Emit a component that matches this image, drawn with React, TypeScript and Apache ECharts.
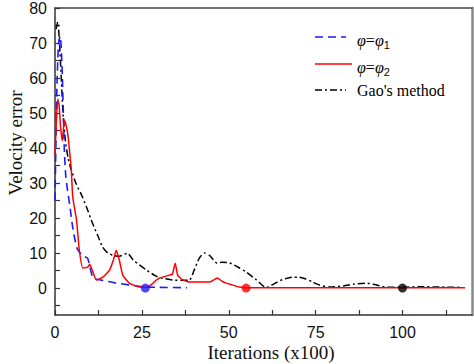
import { useEffect, useRef } from "react";
import * as echarts from "echarts";

// Velocity error vs iterations (x100)
const phi1Points: [number, number][] = [
  [0, 25], [0.5, 55], [1, 70], [1.5, 72], [2, 64], [2.4, 50], [2.7, 39], [3.1, 32], [3.6, 28],
  [4.2, 24], [5, 18], [5.6, 14.5], [6.5, 11], [7.6, 9.6], [8.5, 9], [9.4, 8.5], [10, 6.2],
  [10.8, 3.2], [11.9, 2.5], [13.7, 2.2], [17.6, 1.4], [21.4, 0.9], [25.7, 0.3], [30, 0.2], [38, 0.1],
];

const phi2Points: [number, number][] = [
  [0, 38], [0.4, 48], [0.8, 54], [1.2, 52], [1.6, 46], [2.1, 42], [2.7, 48], [3.3, 46], [3.8, 43],
  [4.3, 38], [4.7, 33.7], [5.1, 26], [6.2, 19.4], [7, 10.8], [8, 5.7], [9.4, 6], [10, 6.8],
  [10.9, 4.6], [11.9, 2.3], [13.8, 3.1], [15.7, 5.1], [16.8, 8], [17.6, 10.8], [18.5, 8],
  [19.5, 3.7], [21.4, 1.4], [24.3, 0.3], [26.6, 0.3], [28, 1.2], [29.2, 2.3], [30, 2.8],
  [32.9, 3.7], [33.8, 4], [34.6, 7.1], [35.3, 3.7], [36.5, 2.5], [38.6, 1.7], [44.4, 1.7],
  [45.5, 2.2], [46.7, 2.9], [48, 2], [49.3, 1.4], [51, 0.9], [53, 0.3], [55, 0.1], [118, 0.1],
];

const gaoPoints: [number, number][] = [
  [0.3, 74], [0.8, 76], [1.3, 70], [1.8, 60], [2.3, 50], [3, 42], [3.8, 37], [4.6, 34], [6, 30],
  [7.9, 26], [9.5, 22], [10.8, 18.5], [12.3, 15], [13.7, 11.7], [15.2, 10], [17, 9.3], [18.5, 9.1],
  [20, 9.6], [20.8, 10], [22.5, 8], [24.3, 6.6], [26.5, 5], [29.1, 3.4], [31, 2.8], [33.8, 2.3],
  [38.6, 2.2], [40, 5], [41.5, 8.5], [43, 10], [44.5, 9.3], [46.7, 7.1], [48, 7.4], [50.2, 7.2],
  [53, 5.8], [55, 4.6], [58, 2.3], [60.8, 0.1], [63, 1.2], [65.5, 2.4], [68.3, 3.1], [70, 3.1],
  [72.2, 2.6], [74, 1.8], [76, 0.9], [79, 0.3], [83, 0.6], [86, 1.1], [89.5, 1.4], [92, 1.0],
  [95, 0.3], [100, 0.2], [105, 0.4], [110, 0.3], [117, 0.2],
];

const convergencePoints: { point: [number, number]; color: string }[] = [
  { point: [26, 0], color: "#1a1aff" },
  { point: [55, 0], color: "#ff0000" },
  { point: [100, 0], color: "#000000" },
];

const xLabels = [0, 25, 50, 75, 100];
const xTicks = [0, 12.5, 25, 37.5, 50, 62.5, 75, 87.5, 100, 112.5];
const yLabels = [0, 10, 20, 30, 40, 50, 60, 70, 80];
const yTicks = [-5, 0, 5, 10, 15, 20, 25, 30, 35, 40, 45, 50, 55, 60, 65, 70, 75, 80];

const SERIF = "'Liberation Serif', 'Times New Roman', serif";
const SANS = "'Liberation Sans', Arial, sans-serif";

export default function App() {
  const ref = useRef<HTMLDivElement>(null);
  useEffect(() => {
    if (!ref.current) return;
    const chart = echarts.init(ref.current, undefined, { renderer: "svg" });
    const legendItems = [
      { name: "phi1", y: 37, color: "#1a1aff", type: [8, 5] as any, text: "{i|φ}{n|=}{i|φ}{s|1}" },
      { name: "phi2", y: 64, color: "#ff0000", type: "solid" as any, text: "{i|φ}{n|=}{i|φ}{s|2}" },
      { name: "gao", y: 90, color: "#000000", type: [7, 3, 2, 3] as any, text: "{n|Gao's method}" },
    ];
    const rich = {
      i: { fontFamily: SERIF, fontStyle: "italic", fontSize: 16, color: "#000" },
      n: { fontFamily: SERIF, fontSize: 16, color: "#000" },
      s: { fontFamily: SANS, fontSize: 11, color: "#000", padding: [9, 0, 0, 0] },
    };
    const hiddenParts = {
      axisTick: { show: false },
      axisLabel: { show: false },
      splitLine: { show: false },
    };
    chart.setOption({
      animation: false,
      backgroundColor: "#ffffff",
      grid: {
        left: 55,
        right: 2,
        top: 8,
        bottom: 49,
        show: false,
      },
      xAxis: [
        {
          type: "value",
          min: 0,
          max: 120,
          axisLine: { show: true, onZero: false, lineStyle: { color: "#333", width: 1.5 } },
          axisTick: {
            show: true,
            inside: true,
            length: 5,
            customValues: xTicks,
            lineStyle: { color: "#333", width: 1.2 },
          },
          axisLabel: {
            customValues: xLabels,
            fontFamily: SANS,
            fontSize: 16,
            color: "#111",
            margin: 9,
          },
          splitLine: { show: false },
        },
        {
          type: "value",
          position: "top",
          min: 0,
          max: 120,
          axisLine: { show: true, onZero: false, lineStyle: { color: "#444", width: 1.5 } },
          ...hiddenParts,
        },
      ],
      yAxis: [
        {
          type: "value",
          min: -7.7,
          max: 80,
          axisLine: { show: true, onZero: false, lineStyle: { color: "#333", width: 1.5 } },
          axisTick: {
            show: true,
            inside: true,
            length: 5,
            customValues: yTicks,
            lineStyle: { color: "#333", width: 1.2 },
          },
          axisLabel: {
            customValues: yLabels,
            fontFamily: SANS,
            fontSize: 16,
            color: "#111",
            margin: 8,
          },
          splitLine: { show: false },
        },
        {
          type: "value",
          position: "right",
          min: -7.7,
          max: 80,
          axisLine: { show: true, onZero: false, lineStyle: { color: "#8a8a8a", width: 2.5 } },
          ...hiddenParts,
        },
      ],
      graphic: [
        {
          type: "text",
          x: 15,
          y: 143,
          rotation: Math.PI / 2,
          style: {
            text: "Velocity error",
            fontFamily: SERIF,
            fontSize: 19,
            fill: "#111",
            align: "center",
            verticalAlign: "middle",
          },
        },
        {
          type: "text",
          x: 271,
          y: 352,
          style: {
            text: "Iterations (x100)",
            fontFamily: SERIF,
            fontSize: 19,
            fill: "#111",
            align: "center",
            verticalAlign: "middle",
          },
        },
        ...legendItems.map((it) => ({
          type: "line",
          shape: { x1: 315, y1: it.y, x2: it.name === "phi2" ? 352 : 346, y2: it.y },
          style: { stroke: it.color, lineWidth: 1.5, lineDash: it.type === "solid" ? null : it.type },
        })),
        ...legendItems.map((it) => ({
          type: "text",
          x: 357,
          y: it.y + (it.name === "gao" ? 0 : 3),
          style: {
            text: it.text,
            rich,
            verticalAlign: "middle",
            align: "left",
          },
        })),
      ],
      series: [
        {
          type: "line",
          data: gaoPoints,
          showSymbol: false,
          smooth: 0.2,
          lineStyle: { color: "#000", width: 1.5, type: [7, 3, 2, 3] },
          z: 2,
        },
        {
          type: "line",
          data: phi1Points,
          showSymbol: false,
          smooth: 0.2,
          lineStyle: { color: "#1a1aff", width: 1.6, type: [8, 5] },
          z: 3,
        },
        {
          type: "line",
          data: phi2Points,
          showSymbol: false,
          smooth: 0.15,
          lineStyle: { color: "#ff0000", width: 1.5 },
          z: 4,
        },
        {
          type: "scatter",
          data: convergencePoints.map((p) => ({ value: p.point, itemStyle: { color: p.color } })),
          symbolSize: 9,
          z: 5,
        },
      ],
    });
    return () => chart.dispose();
  }, []);
  return <div ref={ref} style={{ width: 474, height: 364, position: "absolute", left: 0, top: 0 }} />;
}
